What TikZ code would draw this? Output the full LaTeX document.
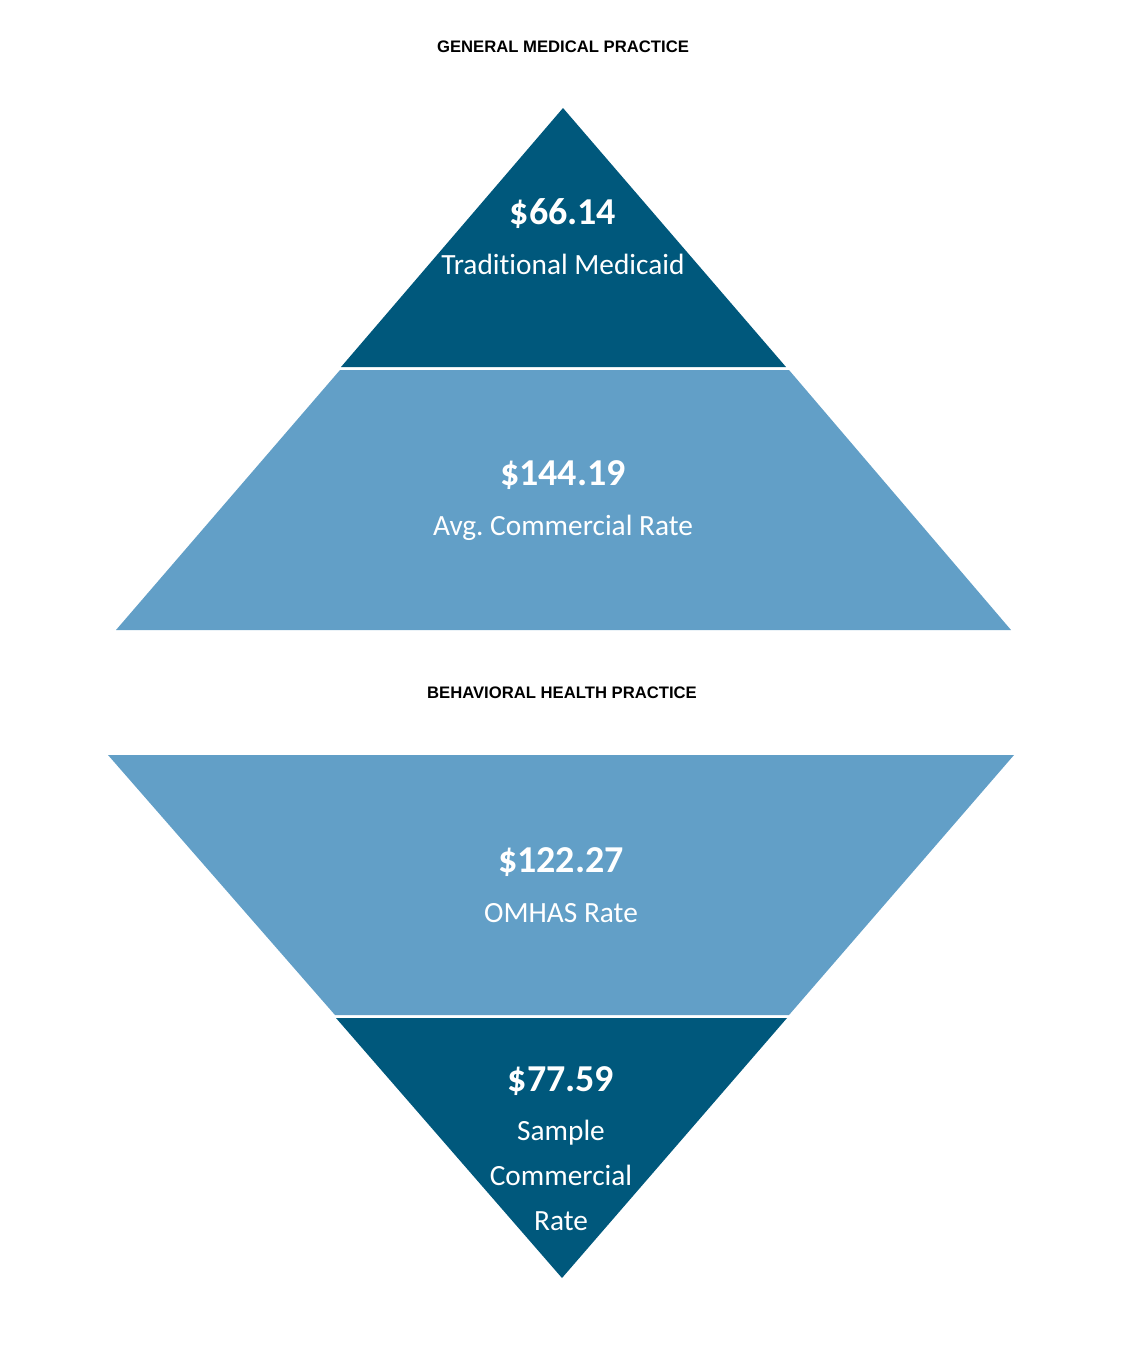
\documentclass[tikz,border=0pt]{standalone}
\usepackage{fontspec}
\setmainfont{Carlito}[Ligatures=NoCommon]
\newfontfamily\headfont{Liberation Sans}
\usetikzlibrary{positioning}
\definecolor{darkblue}{HTML}{00587C}
\definecolor{lightblue}{HTML}{629FC7}
\frenchspacing
\tikzset{
	heading/.style={anchor=base, inner sep=0pt, font=\headfont\bfseries\fontsize{12.5}{14}\selectfont},
	price/.style={anchor=base, inner sep=0pt, text=white, font=\bfseries\fontsize{28.5}{32}\selectfont},
	rate/.style={anchor=base, inner sep=0pt, text=white, font=\fontsize{22}{26}\selectfont}
}

\begin{document}
\begin{tikzpicture}[x=0.75pt,y=-0.75pt]
	\useasboundingbox (0,0) rectangle (1125,1365);
	% general medical practice
	\node[heading] (gmp) at (563,52) {GENERAL MEDICAL PRACTICE};
	\fill[darkblue] (563,108) -- (786,367) -- (341,367) -- cycle;
	\fill[lightblue] (340,370) -- (789,370) -- (1011,630) -- (116,630) -- cycle;
	\node[price] (tmprice) at (563,224) {\$66.14};
	\node[rate] (tm) at (563,274) {Traditional Medicaid};
	\node[price] (acprice) at (563,485) {\$144.19};
	\node[rate] (ac) at (563,535) {Avg. Commercial Rate};
	% behavioral health practice
	\node[heading] (bhp) at (562,698) {BEHAVIORAL HEALTH PRACTICE};
	\fill[lightblue] (108,755) -- (1014,755) -- (789,1015) -- (335,1015) -- cycle;
	\fill[darkblue] (336,1018) -- (787,1018) -- (562,1278) -- cycle;
	\node[price] (omprice) at (561,872) {\$122.27};
	\node[rate] (om) at (561,922) {OMHAS Rate};
	\node[price] (scprice) at (561,1091) {\$77.59};
	\node[rate] (sc1) at (561,1140) {Sample};
	\node[rate] (sc2) at (561,1185) {Commercial};
	\node[rate] (sc3) at (561,1230) {Rate};
\end{tikzpicture}
\end{document}
